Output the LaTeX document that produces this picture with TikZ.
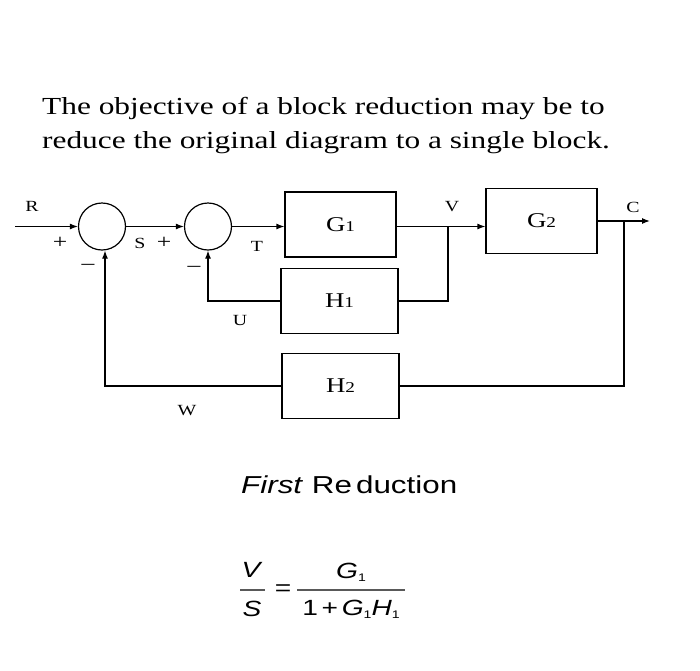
\documentclass[tikz,border=0pt]{standalone}
\usepackage{fontspec}
\setmainfont[FakeStretch=1.28]{Liberation Serif}
\newfontfamily\arialfont[FakeStretch=1.28]{Liberation Sans}
\usetikzlibrary{arrows.meta}
\tikzset{
  blk/.style={draw, line width=1.2pt, minimum width=111pt, minimum height=65pt, inner sep=0pt, font=\fontsize{21}{21}\selectfont},
  sumj/.style={draw, line width=1.2pt, circle, minimum size=47pt, inner sep=0pt},
  sig/.style={line width=1.2pt},
  arr/.style={line width=1.2pt, -{Latex[length=8pt,width=6pt]}},
  lbl/.style={inner sep=0pt, font=\fontsize{15.5}{15.5}\selectfont},
  sgn/.style={inner sep=0pt, font=\fontsize{20}{20}\selectfont},
  ttl/.style={inner sep=0pt, anchor=base west, font=\fontsize{24.5}{24.5}\selectfont},
  eq/.style={inner sep=0pt, font=\arialfont\fontsize{22}{22}\selectfont},
  bar/.style={line width=1.3pt, gray!70!black},
}
\newcommand{\smd}[1]{{\fontsize{15}{15}\selectfont #1}}
\newcommand{\sbs}[1]{\raisebox{-3pt}{\upshape\fontsize{11}{11}\selectfont #1}}
\begin{document}
\begin{tikzpicture}[x=1pt,y=-1pt]
\useasboundingbox (0,0) rectangle (700,670);
% title
\node[ttl] (t1) at (42,114) {The objective of a block reduction may be to};
\node[ttl] (t2) at (42,148) {reduce the original diagram to a single block.};
% blocks
\node[sumj] (s1) at (102,226.5) {};
\node[sumj] (s2) at (208,226.5) {};
\node[blk] (g1) at (340.5,224.5) {G\smd{1}};
\node[blk, minimum width=117pt] (h1) at (339.5,301) {H\smd{1}};
\node[blk, minimum width=117pt] (h2) at (340.5,386) {H\smd{2}};
\node[blk] (g2) at (541.5,221) {G\smd{2}};
% coordinates
\coordinate (rin) at (15,226.5);
\coordinate (vb) at (448,226.5);
\coordinate (cb) at (624,221);
\coordinate (cout) at (650,221);
% forward path
\draw[arr] (rin) -- (s1.west);
\draw[arr] (s1.east) -- (s2.west);
\draw[arr] (s2.east) -- (g1.west |- s2.east);
\draw[sig] (g1.east |- vb) -- (vb);
\draw[arr] (vb) -- (g2.west |- vb);
\draw[arr] (g2.east) -- (cout);
% inner feedback
\draw[sig] (vb) |- (h1.east);
\draw[arr] (h1.west) -| (s2.south);
% outer feedback
\draw[sig] (cb) |- (h2.east);
\draw[arr] (h2.west) -| (s1.south -| 105,0);
% labels
\node[lbl] (lr) at (32,206) {R};
\node[sgn] (p1) at (60,243) {+};
\node[sgn] (m1) at (88,267) {--};
\node[lbl] (ls) at (140,243) {S};
\node[sgn] (p2) at (164,243) {+};
\node[sgn] (m2) at (194,269) {--};
\node[lbl] (lt) at (257,246) {T};
\node[lbl] (lu) at (240,320) {U};
\node[lbl] (lv) at (452,207) {V};
\node[lbl] (lc) at (633,207) {C};
\node[lbl] (lw) at (187,411) {W};
% first reduction
\node[eq, anchor=base west, font=\arialfont\fontsize{24.5}{24.5}\selectfont] (fr) at (241,493) {\itshape First\/ \upshape Re\,duction};
% equation
\node[eq] (ev) at (251,570) {\itshape V};
\node[eq] (es) at (252,609) {\itshape S};
\draw[bar] (240,590) -- (265,590);
\node[eq] (eeq) at (283,590) {=};
\draw[bar] (297,590) -- (405,590);
\node[eq] (eg) at (351,572) {\itshape G\sbs{1}};
\node[eq] (ed) at (351,609) {1\,+\,\itshape G\sbs{1}H\sbs{1}};
\end{tikzpicture}
\end{document}
